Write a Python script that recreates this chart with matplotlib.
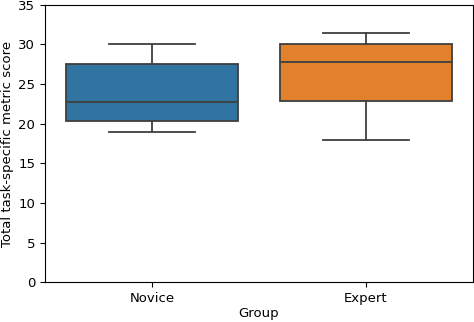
import matplotlib
matplotlib.use('Agg')
import matplotlib.pyplot as plt

# Box statistics
groups = ['Novice', 'Expert']
whisker_low = [19.0, 18.0]
q1 = [20.3, 22.9]
median = [22.8, 27.75]
q3 = [27.5, 30.0]
whisker_high = [30.0, 31.5]
colors = ['#3274a1', '#e1812c']

line_color = '#3f3f3f'

stats = []
for i, g in enumerate(groups):
    stats.append(dict(label=g, whislo=whisker_low[i], q1=q1[i], med=median[i],
                      q3=q3[i], whishi=whisker_high[i], fliers=[]))

fig = plt.figure(figsize=(4.74, 3.22), dpi=100)
ax = fig.add_axes([0.095, 0.123, 0.903, 0.862])

lw = 1.3
bp = ax.bxp(stats, positions=range(len(groups)), widths=0.8, patch_artist=True,
            showfliers=False,
            boxprops=dict(edgecolor=line_color, linewidth=lw),
            medianprops=dict(color=line_color, linewidth=lw),
            whiskerprops=dict(color=line_color, linewidth=lw),
            capprops=dict(color=line_color, linewidth=lw),
            capwidths=0.4)
for patch, c in zip(bp['boxes'], colors):
    patch.set_facecolor(c)

ax.set_xlim(-0.5, len(groups) - 0.5)
ax.set_ylim(0, 35)
ax.set_xticks(range(len(groups)))
ax.set_xticklabels(groups)
ax.tick_params(labelsize=9.5)
ax.set_xlabel('Group', fontsize=9.5, labelpad=1.5)
ax.set_ylabel('Total task-specific metric score', fontsize=9.5, labelpad=3)

fig.savefig('out.png', dpi=100)
